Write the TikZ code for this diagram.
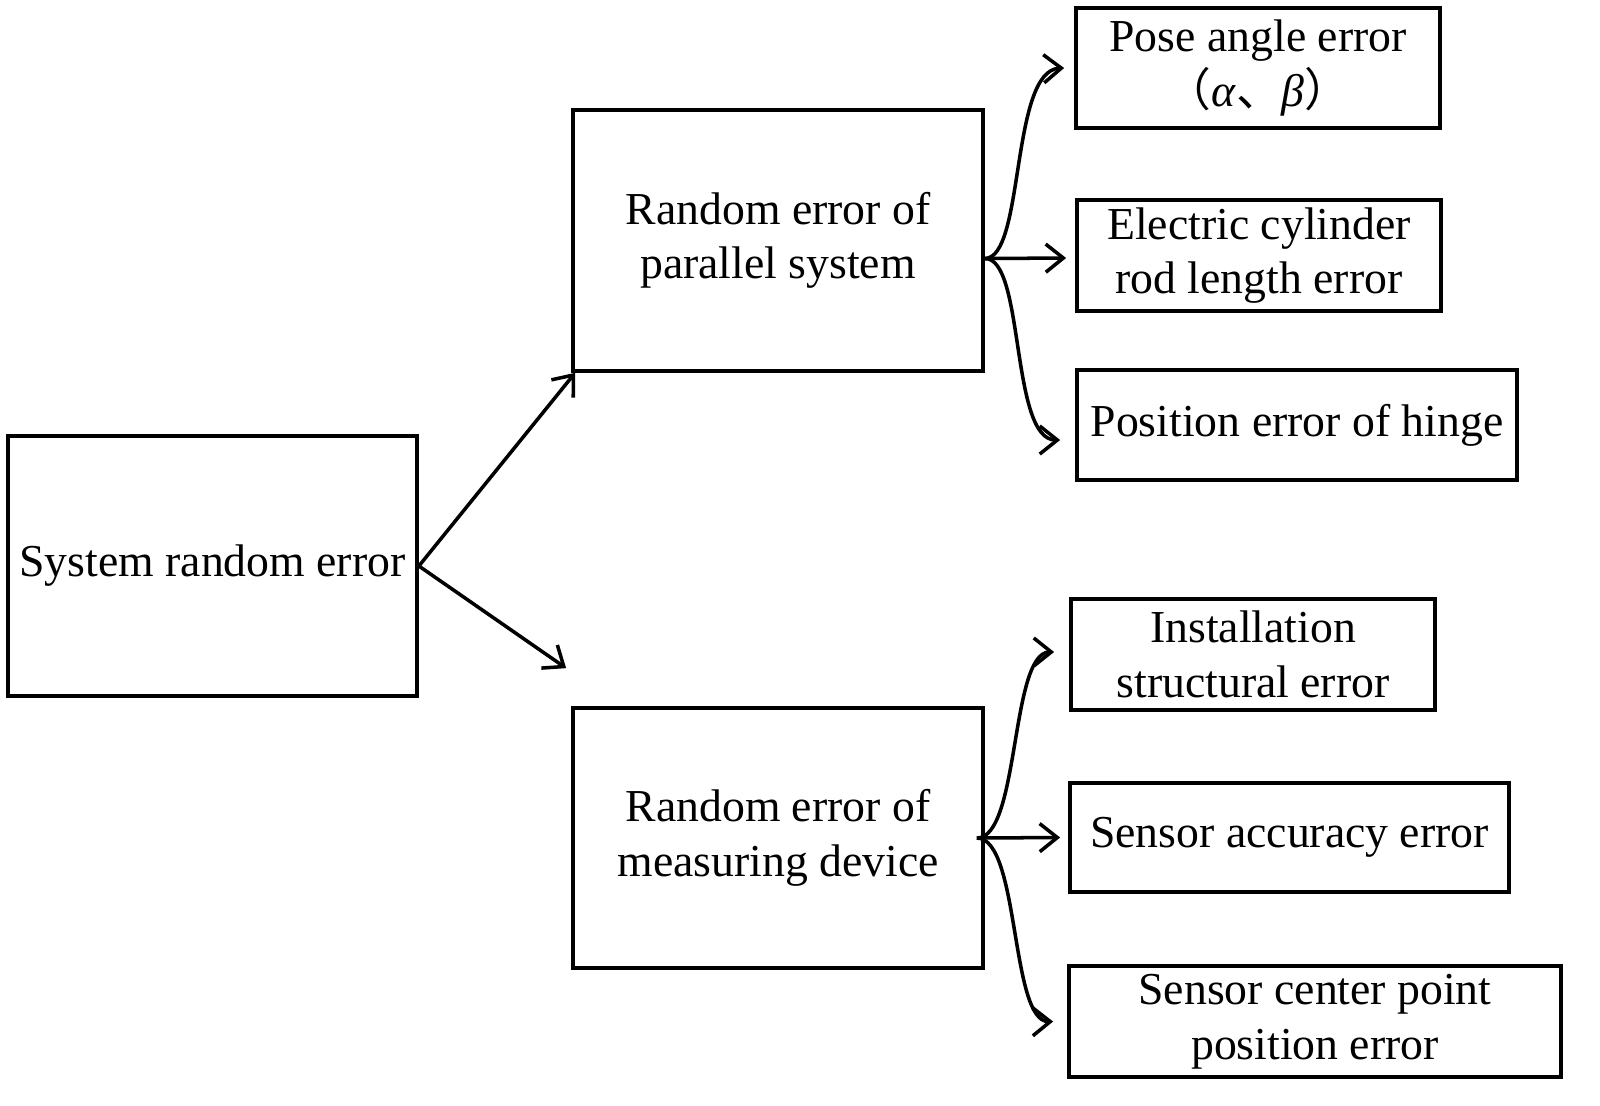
\documentclass[tikz,border=0pt]{standalone}
\usepackage{fontspec}
\setmainfont{Liberation Serif}
\newfontfamily\cjk{Noto Sans CJK SC}
\usetikzlibrary{arrows.meta}
\begin{document}
\begin{tikzpicture}[x=0.01cm,y=-0.01cm,
  box/.style={draw,line width=1pt,inner sep=0pt,align=center,font=\fontsize{13}{15.5}\selectfont},
  arr/.style={line width=1pt,-{Straight Barb[length=5pt,width=8pt]}}]
\useasboundingbox (0,0) rectangle (1600,1105);
\node[box,minimum width=4.09cm,minimum height=2.6cm] (A) at (212.5,566) {System random error};
\node[box,minimum width=4.1cm,minimum height=2.61cm] (B) at (778,240.5) {Random error of\\parallel system};
\node[box,minimum width=4.1cm,minimum height=2.6cm] (C) at (778,838) {Random error of\\measuring device};
\node[box,minimum width=3.64cm,minimum height=1.2cm] (D1) at (1258,68) {Pose angle error\\{\cjk （}\textit{α}{\cjk 、}\textit{β}{\cjk ）}};
\node[box,minimum width=3.64cm,minimum height=1.11cm] (D2) at (1259,255.5) {Electric cylinder\\rod length error};
\node[box,minimum width=4.4cm,minimum height=1.1cm] (D3) at (1297,425) {Position error of hinge};
\node[box,minimum width=3.64cm,minimum height=1.11cm] (E1) at (1253,654.5) {Installation\\structural error};
\node[box,minimum width=4.39cm,minimum height=1.09cm] (E2) at (1289.5,837.5) {Sensor accuracy error};
\node[box,minimum width=4.92cm,minimum height=1.11cm] (E3) at (1315,1021.5) {Sensor center point\\position error};
\coordinate (b0) at ([yshift=-0.18cm]B.east);
\coordinate (c0) at ([xshift=-0.08cm]C.east);
\draw[arr] (A.east) -- ([xshift=0.04cm]B.south west);
\draw[arr] (A.east) -- ([xshift=-0.05cm,yshift=0.38cm]C.north west);
\draw[arr] (b0) .. controls (1025,258) and (1010,70) .. ([xshift=-0.1cm]D1.west);
\draw[arr] (b0) -- ([xshift=-0.09cm,yshift=-0.025cm]D2.west);
\draw[arr] (b0) .. controls (1025,258) and (1010,440) .. ([xshift=-0.15cm,yshift=-0.15cm]D3.west);
\draw[arr] (c0) .. controls (1020,838) and (1010,652) .. ([xshift=-0.15cm,yshift=0.025cm]E1.west);
\draw[arr] (c0) -- ([xshift=-0.08cm]E2.west);
\draw[arr] (c0) .. controls (1020,838) and (1010,1022) .. ([xshift=-0.14cm]E3.west);
\end{tikzpicture}
\end{document}
